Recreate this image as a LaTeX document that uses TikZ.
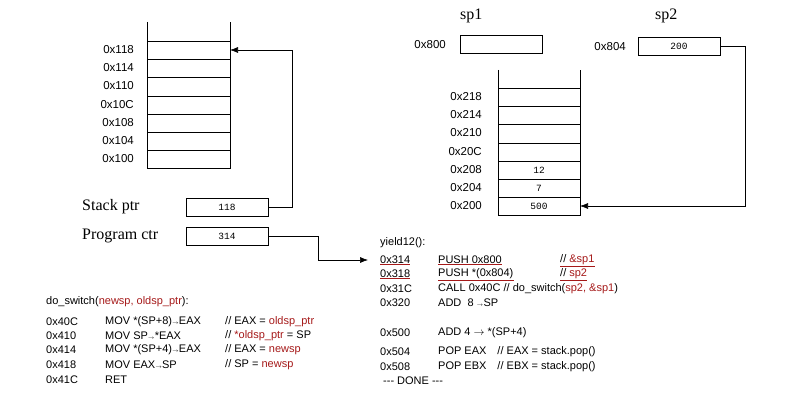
\documentclass[tikz,border=0pt]{standalone}
\usepackage{fontspec}
\setmainfont{Liberation Serif}
\newfontfamily\codefont{Liberation Sans}
\newfontfamily\monofont{Liberation Mono}
\usetikzlibrary{arrows.meta}
\definecolor{dred}{RGB}{165,25,25}
\tikzset{
 cell/.style={draw,line width=0.6pt},
 box/.style={draw,line width=0.6pt,minimum width=82pt,minimum height=18pt,inner sep=0pt,font=\monofont\fontsize{9.5}{9.5}\selectfont},
 addr/.style={anchor=east,inner sep=0pt,font=\codefont\fontsize{11.5}{12}\selectfont},
 code/.style={anchor=west,inner sep=0pt,font=\codefont\fontsize{11}{12}\selectfont},
 big/.style={anchor=west,inner sep=0pt,font=\fontsize{16}{17}\selectfont},
 arr/.style={line width=0.6pt,-{Latex[length=8pt,width=6pt]}},
 ul/.style={line width=0.5pt}
}
\newcommand{\rd}[1]{\textcolor{dred}{#1}}
\begin{document}
\begin{tikzpicture}[x=1pt,y=-1pt]
\useasboundingbox (0,0) rectangle (802,403);
% left stack
\draw[cell] (147,22) -- (147,168) -- (230,168) -- (230,22);
\foreach \y in {41,59,77,96,114,132,150}{\draw[cell] (147,\y) -- (230,\y);}
\foreach \t/\y in {0x118/50,0x114/68,0x110/86,0x10C/105,0x108/123,0x104/141,0x100/159}{\node[addr] at (134,\y) {\t};}
\coordinate (s118) at (230,50);
\node[big] at (82,207) {Stack ptr};
\node[big] at (82,236) {Program ctr};
\node[box] (sp) at (227,207) {118};
\node[box] (pc) at (227,236) {314};
\draw[arr] (sp.east) -- (292,207) -- (292,50) -- (s118);
\coordinate (y314) at (368,260);
\draw[arr] (pc.east) -- (318,236) -- (318,260) -- (y314);
% right stack
\node[big] at (460,16) {sp1};
\node[big] at (655,16) {sp2};
\node[addr] at (446,45) {0x800};
\node[addr] at (626,47) {0x804};
\node[box] (b800) at (501,44) {};
\node[box] (b804) at (679,46) {200};
\draw[cell] (498,70) -- (498,215) -- (580,215) -- (580,70);
\foreach \y in {88,106,124,143,161,179,197}{\draw[cell] (498,\y) -- (580,\y);}
\foreach \t/\y in {0x218/97,0x214/115,0x210/133,0x20C/152,0x208/170,0x204/188,0x200/206}{\node[addr] at (482,\y) {\t};}
\node[font=\monofont\fontsize{9.5}{9.5}\selectfont] at (539,170) {12};
\node[font=\monofont\fontsize{9.5}{9.5}\selectfont] at (539,188) {7};
\node[font=\monofont\fontsize{9.5}{9.5}\selectfont] at (539,206) {500};
\coordinate (s200) at (580,206);
\draw[arr] (b804.east) -- (745,46) -- (745,206) -- (s200);
% yield12
\node[code] at (380,243) {yield12():};
\node[code] (a1) at (380,260) {0x314};
\node[code] (i1) at (438,260) {PUSH 0x800};
\node[code] (c1) at (560,260) {// \rd{\&sp1}};
\node[code] (a2) at (380,274) {0x318};
\node[code] (i2) at (438,274) {PUSH *(0x804)};
\node[code] (c2) at (560,274) {// \rd{sp2}};
\foreach \n in {a1,i1,c1,a2,i2,c2}{\draw[ul,dred] ([yshift=-0.5pt]\n.south west) -- ([yshift=-0.5pt]\n.south east);}
\node[code] at (380,289) {0x31C};
\node[code] at (438,289) {CALL 0x40C // do\_switch(\rd{sp2, \&sp1})};
\node[code] at (380,303) {0x320};
\node[code] at (438,303) {ADD\ \ 8 {\tiny$\rightarrow$}SP};
\node[code] at (380,333) {0x500};
\node[code] at (438,333) {ADD 4 $\rightarrow$ *(SP+4)};
\node[code] at (380,352) {0x504};
\node[code] at (438,352) {POP EAX\quad // EAX = stack.pop()};
\node[code] at (380,367) {0x508};
\node[code] at (438,367) {POP EBX\quad // EBX = stack.pop()};
\node[code] at (383,381) {--- DONE ---};
% do_switch
\node[code] at (46,302) {do\_switch(\rd{newsp, oldsp\_ptr}):};
\foreach \a/\i/\c/\y in {0x40C/{MOV *(SP+8){\tiny$\rightarrow$}EAX}/{// EAX = \rd{oldsp\_ptr}}/322,
 0x410/{MOV SP{\tiny$\rightarrow$}*EAX}/{// \rd{*oldsp\_ptr} = SP}/336,
 0x414/{MOV *(SP+4){\tiny$\rightarrow$}EAX}/{// EAX = \rd{newsp}}/350,
 0x418/{MOV EAX{\tiny$\rightarrow$}SP}/{// SP = \rd{newsp}}/365}{
 \node[code] at (46,\y) {\a};
 \node[code] at (105,\y) {\i};
 \node[code] at (225,\y) {\c};}
\node[code] at (46,380) {0x41C};
\node[code] at (105,380) {RET};
\end{tikzpicture}
\end{document}
